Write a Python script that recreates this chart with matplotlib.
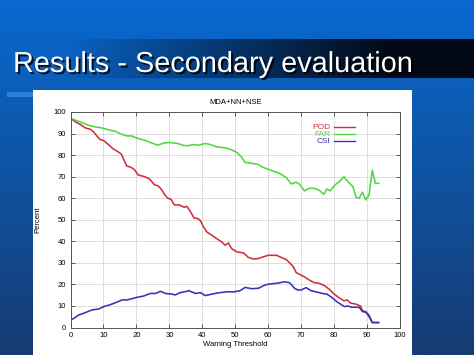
import numpy as np
import matplotlib
matplotlib.use("Agg")
import matplotlib.pyplot as plt
import matplotlib.patheffects as pe

# values (threshold, percent)
pod_x = [0, 1.5, 3, 4.5, 6, 7, 8, 9, 10, 11.5, 13, 14.5, 15.5, 16, 17, 18.5, 19.5, 20.5,
         22.5, 24, 25.5, 26.5, 27.5, 28.5, 29.5, 30.5, 31.5, 33, 34.5, 35.3, 36.3, 37.5,
         38.5, 39.4, 40.4, 41.4, 42.9, 44.4, 45.9, 46.9, 47.9, 48.9, 50.5, 52.5, 54, 55.5,
         57, 58.5, 60, 62.5, 64, 65.5, 66.5, 67.5, 68.5, 69.5, 71, 72.5, 74, 75.5, 77,
         78.5, 80, 81.5, 83, 84, 85, 86.5, 88, 88.6, 89.6, 90.6, 91.6, 93.5]
pod_y = [97.2, 95.4, 94.2, 92.6, 92, 90.8, 88.9, 87.2, 86.8, 84.9, 82.8, 81.5, 80.3, 78.5,
         75.1, 74.2, 73.1, 70.8, 70, 68.9, 66.2, 65.8, 64.3, 61.8, 60, 59.5, 56.9, 56.9,
         55.8, 56.2, 54, 50.8, 50.6, 49.7, 46.6, 44.3, 42.8, 41.2, 39.7, 38.2, 39.2, 36.6,
         35.1, 34.6, 32.5, 31.8, 32, 32.8, 33.5, 33.5, 32.5, 31.5, 30, 28.5, 25.5, 24.7,
         23.5, 22, 20.8, 20.5, 19.5, 17.8, 15.5, 13.8, 12.4, 12.8, 11.3, 10.9, 10, 7.8,
         7.4, 5.8, 2.3, 2.3]

far_x = [0, 1.5, 3.5, 5.5, 7.5, 9.5, 11.5, 13.5, 15.5, 17, 18.5, 20.5, 22.5, 24.5, 26.5,
         28.5, 30.5, 32.5, 34, 35.4, 37.4, 38.9, 40.9, 42.4, 44.4, 46.4, 48.4, 50.5, 52,
         53, 55, 57, 58, 60, 62, 63.5, 65.5, 67, 68.5, 69.5, 71, 72.5, 73.9, 75.4, 76.9,
         77.8, 78.8, 80.3, 81.8, 83, 83.7, 84.7, 85.7, 86.7, 87.6, 88.6, 89.6, 90.6, 91.6,
         92.5, 93.5]
far_y = [97.2, 96.2, 95.1, 93.8, 93.1, 92.6, 91.8, 91.1, 89.7, 88.9, 88.9, 87.7, 86.9,
         85.7, 84.6, 85.7, 85.8, 85.4, 84.6, 84.3, 84.9, 84.6, 85.4, 84.9, 83.8, 83.5,
         82.8, 81.2, 78.9, 76.6, 76.2, 75.7, 74.6, 73.4, 72.3, 71.5, 69.5, 66.6, 67.4,
         66.5, 63.4, 64.6, 64.6, 63.8, 61.8, 64.3, 63.4, 66.2, 68, 70, 68.5, 66.9, 65.4,
         60.3, 60, 62.8, 59.2, 61.5, 73.1, 66.9, 66.9]

csi_x = [0, 1, 2.5, 4.5, 6.6, 8.6, 10.1, 12.1, 14.1, 15.7, 17.2, 18.7, 20.2, 22.2, 24.2,
         25.8, 27.3, 28.8, 30.8, 31.8, 33.3, 34.8, 35.9, 37.9, 39.4, 40.9, 42.9, 45.4,
         47.9, 49.5, 51.5, 53, 55, 57, 59, 60.5, 62.5, 65, 66.5, 68, 69, 70, 71.5, 73,
         74.4, 76.4, 77.8, 79.3, 80.8, 82.3, 83.2, 84.2, 85.2, 87.6, 88.6, 89.6, 90.6,
         91.6, 93.5]
csi_y = [3.5, 4.2, 5.8, 6.9, 8.2, 8.6, 9.7, 10.6, 11.8, 12.8, 12.8, 13.4, 14, 14.6, 15.8,
         15.8, 16.8, 15.8, 15.5, 15.1, 16.2, 16.6, 17.1, 15.8, 16.2, 14.8, 15.5, 16.2,
         16.6, 16.5, 17.1, 18.6, 18, 18.2, 19.7, 20.2, 20.5, 21.2, 20.8, 18.2, 17.4, 17.4,
         18.5, 17.1, 16.6, 15.8, 15.5, 14, 12, 10.5, 9.7, 10, 9.4, 9.4, 7.4, 7.1, 5.1,
         2.3, 2.3]

series = [("POD", pod_x, pod_y, "#d0303a"),
          ("FAR", far_x, far_y, "#4fd840"),
          ("CSI", csi_x, csi_y, "#3434b4")]

ticks = list(range(0, 101, 10))

W, H = 474, 355
fig = plt.figure(figsize=(W / 100, H / 100), dpi=100)

# slide background: vertical blue gradient
bg = fig.add_axes([0, 0, 1, 1], zorder=0)
bg.set_axis_off()
top = np.array([0x08, 0x69, 0xd0]) / 255
bot = np.array([0x17, 0x3b, 0x72]) / 255
t = np.linspace(0, 1, 256)[:, None]
grad = top[None, None, :] * (1 - t[..., None]) + bot[None, None, :] * t[..., None]
grad = np.repeat(grad, 2, axis=1)
bg.imshow(grad, extent=[0, W, H, 0], aspect="auto")
# dark title band, fading to black on the right
band = np.zeros((1, 256, 4))
band[..., :3] = np.array([0x02, 0x08, 0x14]) / 255
band[..., 3] = np.clip(np.linspace(-0.2, 1.25, 256), 0, 1)
bg.imshow(band, extent=[0, W, 78, 39], aspect="auto")
bg.add_patch(plt.Rectangle((7, 92), 26, 5, color="#2b82dc", lw=0))
# white chart panel
bg.add_patch(plt.Rectangle((33, 90), 379, 265, color="white", lw=0))
bg.set_xlim(0, W)
bg.set_ylim(H, 0)

fig.text(13 / W, 1 - 72 / H, "Results - Secondary evaluation", color="white",
         fontsize=20.8, family="Liberation Sans", va="baseline", ha="left",
         path_effects=[pe.withSimplePatchShadow(offset=(1.5, -1.5), shadow_rgbFace="black", alpha=0.8)])

ax = fig.add_axes([70.5 / W, 27.5 / H, 329.5 / W, 215.5 / H], zorder=2)
ax.set_facecolor("none")
for name, xs, ys, c in series:
    ax.plot(xs, ys, color=c, lw=1.15)

ax.set_xlim(0, 100)
ax.set_ylim(0, 100)
ax.set_xticks(ticks)
ax.set_yticks(ticks)
ax.tick_params(direction="in", length=3, width=0.6, labelsize=5.5, color="#444444",
               top=True, right=True, pad=3)
for lab in ax.get_xticklabels() + ax.get_yticklabels():
    lab.set_family("Liberation Sans")
ax.grid(True, color="#d8d8d8", lw=0.6)
for s in ax.spines.values():
    s.set_color("#555555")
    s.set_linewidth(0.7)

ax.set_title("MDA+NN+NSE", fontsize=5.5, family="Liberation Sans", pad=6)
ax.set_xlabel("Warning Threshold", fontsize=5.5, family="Liberation Sans", labelpad=2)
ax.set_ylabel("Percent", fontsize=5.5, family="Liberation Sans", labelpad=9)

# gnuplot-style key, top right
for i, (name, xs, ys, c) in enumerate(series):
    yk = 0.930 - i * 0.033
    ax.text(0.788, yk, name, color=c, fontsize=6, family="Liberation Sans",
            ha="right", va="center", transform=ax.transAxes)
    ax.plot([0.80, 0.863], [yk, yk], color=c, lw=1.0, transform=ax.transAxes)

fig.savefig("out.png", dpi=100)
